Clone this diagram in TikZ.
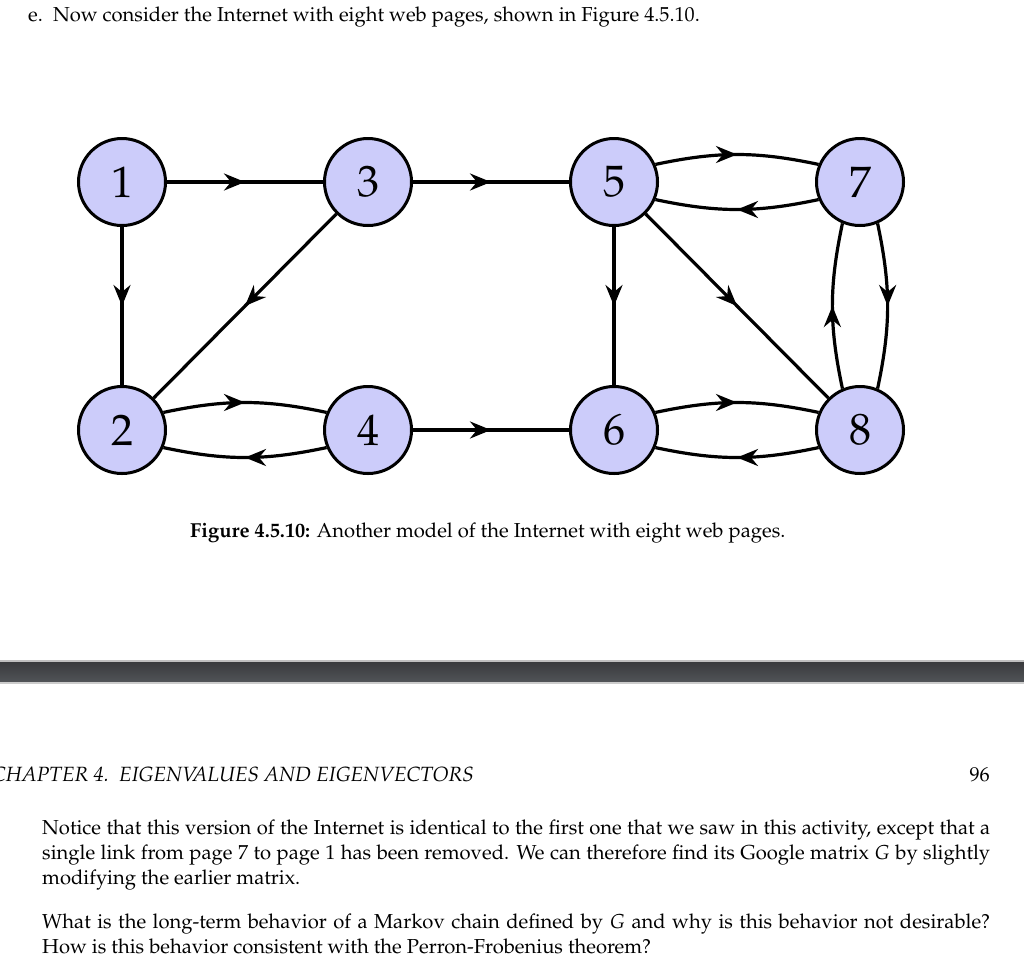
\documentclass[tikz,border=0pt]{standalone}
\usepackage[T1]{fontenc}
\usepackage{mathpazo}
\usetikzlibrary{arrows.meta,decorations.markings}
\definecolor{nodefill}{RGB}{204,204,250}
\definecolor{bartop}{RGB}{56,57,60}
\definecolor{barbot}{RGB}{82,85,89}
\tikzset{
  page/.style={circle,draw=black,fill=nodefill,line width=3pt,minimum size=87pt,inner sep=0pt,font=\fontsize{44}{44}\selectfont},
  link/.style={line width=3.2pt,postaction={decorate},decoration={markings,mark=at position 0.5 with {\arrow{Stealth[length=21pt 0,width=17pt 0,inset=7pt 0]}}}},
  txt/.style={anchor=base west,inner sep=0pt,font=\fontsize{20.2}{25}\selectfont},
  curvy/.style={bend left=12}
}
\begin{document}
\begin{tikzpicture}[x=1pt,y=1pt]
\useasboundingbox (0,0) rectangle (1024,-967);
\fill[white] (0,0) rectangle (1024,-967);
\node[txt] (top) at (28,-21) {e.\ \ Now consider the Internet with eight web pages, shown in Figure 4.5.10.};
\node[page] (n1) at (122,-182) {1};
\node[page] (n3) at (368,-182) {3};
\node[page] (n5) at (614,-182) {5};
\node[page] (n7) at (860,-182) {7};
\node[page] (n2) at (122,-430) {2};
\node[page] (n4) at (368,-430) {4};
\node[page] (n6) at (614,-430) {6};
\node[page] (n8) at (860,-430) {8};
\draw[link] (n1) -- (n3);
\draw[link] (n3) -- (n5);
\draw[link] (n4) -- (n6);
\draw[link] (n1) -- (n2);
\draw[link] (n3) -- (n2);
\draw[link] (n5) -- (n6);
\draw[link] (n5) -- (n8);
\draw[link] (n5.23) to[curvy] (n7.157);
\draw[link] (n7.-157) to[curvy] (n5.-23);
\draw[link] (n2.23) to[curvy] (n4.157);
\draw[link] (n4.-157) to[curvy] (n2.-23);
\draw[link] (n6.23) to[curvy] (n8.157);
\draw[link] (n8.-157) to[curvy] (n6.-23);
\draw[link] (n7.-67) to[curvy] (n8.67);
\draw[link] (n8.113) to[curvy] (n7.-113);
\node[txt] (cap) at (190,-537) {\textbf{Figure 4.5.10:} Another model of the Internet with eight web pages.};
\shade[top color=bartop,bottom color=barbot] (0,-661) rectangle (1024,-683);
\draw[line width=1.5pt,color=black!25] (0,-661) -- (1024,-661);
\draw[line width=1.5pt,color=black!20] (0,-683) -- (1024,-683);
\node[txt,font=\fontsize{20.6}{25}\selectfont] (hdr) at (-8,-781) {\itshape CHAPTER 4.\ \ EIGENVALUES AND EIGENVECTORS};
\node[txt,anchor=base east] (pg) at (990,-781) {96};
\node[txt] (p1) at (42,-834) {\makebox[948pt][s]{Notice that this version of the Internet is identical to the first one that we saw in this activity, except that a}};
\node[txt] (p2) at (42,-859) {\makebox[948pt][s]{single link from page 7 to page 1 has been removed. We can therefore find its Google matrix $G$ by slightly}};
\node[txt] (p3) at (42,-884) {modifying the earlier matrix.};
\node[txt] (p4) at (42,-928) {\makebox[948pt][s]{What is the long-term behavior of a Markov chain defined by $G$ and why is this behavior not desirable?}};
\node[txt] (p5) at (42,-953) {How is this behavior consistent with the Perron-Frobenius theorem?};
\end{tikzpicture}
\end{document}
